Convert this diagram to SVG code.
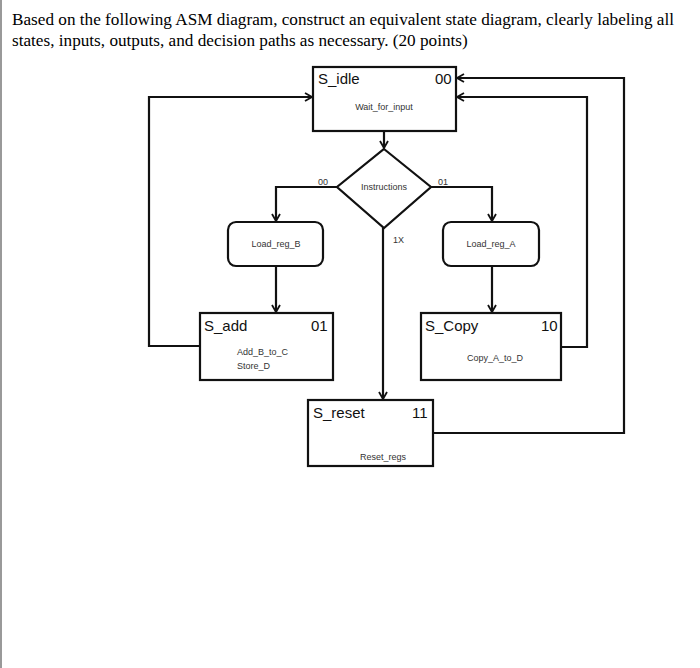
<svg xmlns="http://www.w3.org/2000/svg" width="700" height="668" viewBox="0 0 700 668">
<style>
.b{fill:#fff;stroke:#111;stroke-width:2.2}
.c{fill:none;stroke:#111;stroke-width:2.2}
.n{font-family:"Liberation Sans",Arial,sans-serif;font-size:15px;fill:#111}
.s{font-family:"Liberation Sans",Arial,sans-serif;font-size:9px;fill:#333}
.t{font-family:"Liberation Serif","Times New Roman",serif;font-size:17.2px;fill:#000}
</style>
<defs><marker id="a" markerWidth="10" markerHeight="10" refX="8" refY="5" orient="auto" markerUnits="userSpaceOnUse"><path d="M1,1 L8,5 L1,9" fill="none" stroke="#111" stroke-width="1.8"/></marker></defs>
<rect width="700" height="668" fill="#fff"/>
<line x1="1" y1="0" x2="1" y2="668" stroke="#999" stroke-width="2"/>
<text class="t" x="12" y="25">Based on the following ASM diagram, construct an equivalent state diagram, clearly labeling all</text>
<text class="t" x="12" y="46">states, inputs, outputs, and decision paths as necessary. (20 points)</text>
<g id="connectors">
<path class="c" d="M384,131 V148" marker-end="url(#a)"/>
<path class="c" d="M337,187 H276 V221" marker-end="url(#a)"/>
<path class="c" d="M431,187 H492 V221" marker-end="url(#a)"/>
<path class="c" d="M276,266 V312" marker-end="url(#a)"/>
<path class="c" d="M492,266 V312" marker-end="url(#a)"/>
<path class="c" d="M383,228 V399" marker-end="url(#a)"/>
<path class="c" d="M200,346 H149 V97 H312" marker-end="url(#a)"/>
<path class="c" d="M561,347 H587 V97 H457" marker-end="url(#a)"/>
<path class="c" d="M433,433 H624 V78 H457" marker-end="url(#a)"/>
<text class="s" x="318" y="185">00</text>
<text class="s" x="438" y="185">01</text>
<text class="s" x="393" y="243">1X</text>
</g>
<g id="s_idle"><rect class="b" x="313" y="67" width="143" height="64"/><text class="n" x="318" y="84">S_idle</text><text class="n" x="435" y="84">00</text><text class="s" x="384" y="110" text-anchor="middle">Wait_for_input</text></g>
<g id="instructions"><path class="b" d="M384,149 L431,187 L384,228 L337,187 Z"/><text class="s" x="384" y="190" text-anchor="middle">Instructions</text></g>
<g id="load_b"><rect class="b" x="228" y="222" width="95" height="44" rx="8"/><text class="s" x="276" y="247" text-anchor="middle">Load_reg_B</text></g>
<g id="load_a"><rect class="b" x="443" y="222" width="96" height="44" rx="8"/><text class="s" x="491" y="247" text-anchor="middle">Load_reg_A</text></g>
<g id="s_add"><rect class="b" x="200" y="313" width="133" height="67"/><text class="n" x="204" y="331">S_add</text><text class="n" x="311" y="331">01</text><text class="s" x="237" y="355">Add_B_to_C</text><text class="s" x="237" y="369">Store_D</text></g>
<g id="s_copy"><rect class="b" x="421" y="313" width="140" height="67"/><text class="n" x="425" y="331">S_Copy</text><text class="n" x="541" y="331">10</text><text class="s" x="495" y="361" text-anchor="middle">Copy_A_to_D</text></g>
<g id="s_reset"><rect class="b" x="308" y="400" width="125" height="66"/><text class="n" x="313" y="418">S_reset</text><text class="n" x="412" y="418">11</text><text class="s" x="383" y="460" text-anchor="middle">Reset_regs</text></g>
</svg>
